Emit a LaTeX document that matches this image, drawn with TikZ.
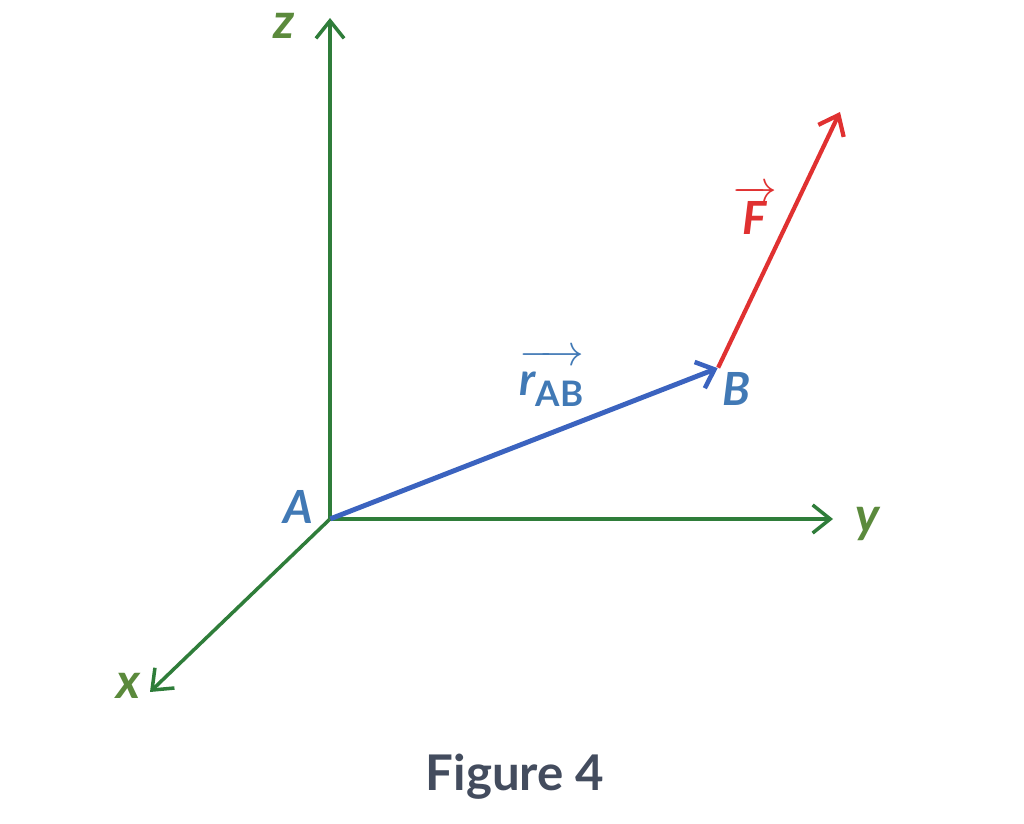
\documentclass[tikz,border=0pt]{standalone}
\usepackage{amsmath}
\usepackage{fontspec}
\setmainfont{Lato}
\usepackage{tikz}
\usetikzlibrary{arrows.meta,calc}
\definecolor{axisgreen}{HTML}{2F7D3A}
\definecolor{labelgreen}{HTML}{5B8A3C}
\definecolor{vecblue}{HTML}{3B63BF}
\definecolor{labelblue}{HTML}{4179B5}
\definecolor{forcered}{HTML}{E03131}
\definecolor{captiongray}{HTML}{434C5E}
\tikzset{point/.style={inner sep=0pt, minimum size=0pt}}
\tikzset{axis/.style={line width=2pt, axisgreen, -{Straight Barb[length=10pt,width=16pt,line width=2pt]}}}
\tikzset{posvec/.style={line width=2.8pt, vecblue, -{Straight Barb[length=9pt,width=16pt,line width=2.6pt]}}}
\tikzset{forcevec/.style={line width=2.4pt, forcered, -{Straight Barb[length=10pt,width=16pt,line width=2.4pt]}}}
\tikzset{axislabel/.style={text=labelgreen, font=\fontsize{28}{32}\selectfont\itshape\bfseries}}
\tikzset{ptlabel/.style={text=labelblue, font=\fontsize{26}{30}\selectfont\itshape\bfseries}}

\begin{document}
\begin{tikzpicture}[x=0.02cm, y=-0.02cm]
  \useasboundingbox (0,0) rectangle (1024,824);
  \node (A) at (330,519)[point]{};
  \node (B) at (718,368)[point]{};
  \coordinate (zend) at (330,18);
  \coordinate (yend) at (833,519);
  \coordinate (xend) at (150,692);
  \coordinate (fend) at (840,112);

  \draw[axis] (A) -- (zend);
  \draw[axis] (A) -- (yend);
  \draw[axis] (A) -- (xend);
  \draw[posvec] (A) -- (B);
  \draw[forcevec] (B) -- (fend);

  \node (zlab) at (284,26)[axislabel]{z};
  \node (ylab) at (868,524)[axislabel]{y};
  \node (xlab) at (128,686)[axislabel]{x};
  \node (Alab) at (298,507)[ptlabel]{A};
  \node (Blab) at (737,389)[ptlabel]{B};
  \node (rlab) at (552,378)[ptlabel, inner sep=1pt]{$\overrightarrow{\vphantom{A}\textit{r}_{\text{\normalfont\bfseries\fontsize{20}{22}\selectfont AB}}}$};
  \node (Flab) at (755,210)[ptlabel, text=forcered, inner sep=1pt]{$\overrightarrow{\textit{F}}$};
  \node (caption) at (515,777)[text=captiongray, font=\fontsize{28}{32}\selectfont\bfseries]{Figure 4};
\end{tikzpicture}
\end{document}
